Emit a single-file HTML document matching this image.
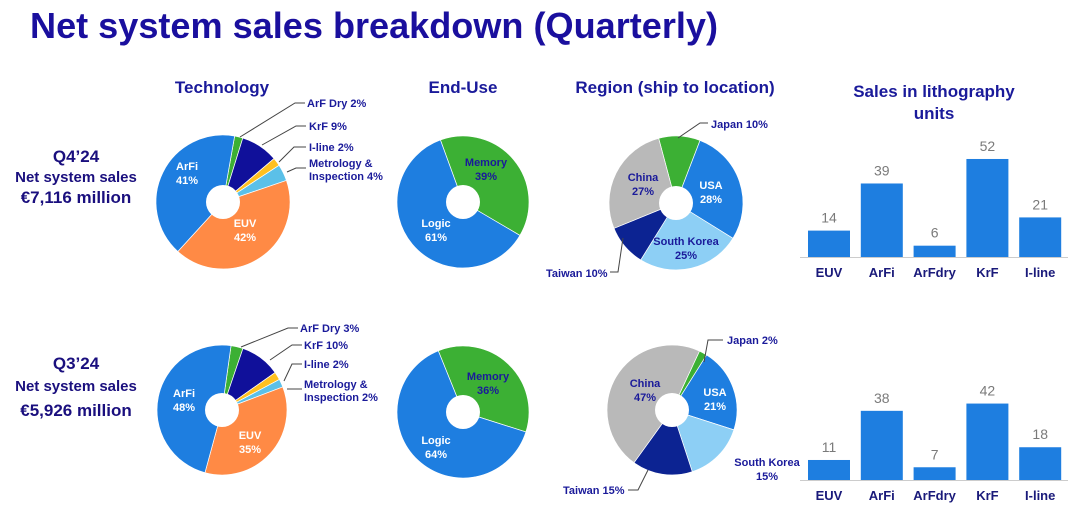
<!DOCTYPE html>
<html><head><meta charset="utf-8"><style>
html,body{margin:0;padding:0;background:#fff;}
svg{display:block;font-family:"Liberation Sans",Arial,sans-serif;font-weight:bold;}
</style></head><body>
<svg id="c" width="1077" height="513" viewBox="0 0 1077 513">
<text x="30" y="38" font-size="36" fill="#1a0f9e" textLength="688" lengthAdjust="spacingAndGlyphs">Net system sales breakdown (Quarterly)</text>
<text x="222" y="93" font-size="17" fill="#1a1a9a" text-anchor="middle">Technology</text>
<text x="463" y="93" font-size="17" fill="#1a1a9a" text-anchor="middle">End-Use</text>
<text x="675" y="93" font-size="17" fill="#1a1a9a" text-anchor="middle">Region (ship to location)</text>
<text x="934" y="97" font-size="17" fill="#1a1a9a" text-anchor="middle">Sales in lithography</text>
<text x="934" y="119" font-size="17" fill="#1a1a9a" text-anchor="middle">units</text>
<g fill="#1a0f7e" text-anchor="middle">
<text x="76" y="162" font-size="17">Q4’24</text>
<text x="76" y="182" font-size="15">Net system sales</text>
<text x="76" y="203" font-size="17">€7,116 million</text>
</g>
<g fill="#1a0f7e" text-anchor="middle">
<text x="76" y="369" font-size="17">Q3’24</text>
<text x="76" y="391" font-size="15">Net system sales</text>
<text x="76" y="416" font-size="17">€5,926 million</text>
</g>
<g id="pies"></g>
<g id="bars"></g>
<g fill="#1a1a9a" font-size="11">
<g fill="#fff"><text x="187" y="170" text-anchor="middle">ArFi</text><text x="187" y="184" text-anchor="middle">41%</text>
<text x="245" y="227" text-anchor="middle">EUV</text><text x="245" y="241" text-anchor="middle">42%</text>
<text x="436" y="227" text-anchor="middle">Logic</text><text x="436" y="241" text-anchor="middle">61%</text>
<text x="711" y="189" text-anchor="middle">USA</text><text x="711" y="203" text-anchor="middle">28%</text>
<text x="184" y="397" text-anchor="middle">ArFi</text><text x="184" y="411" text-anchor="middle">48%</text>
<text x="250" y="439" text-anchor="middle">EUV</text><text x="250" y="453" text-anchor="middle">35%</text>
<text x="436" y="444" text-anchor="middle">Logic</text><text x="436" y="458" text-anchor="middle">64%</text>
<text x="715" y="396" text-anchor="middle">USA</text><text x="715" y="410" text-anchor="middle">21%</text></g>
<text x="486" y="166" text-anchor="middle">Memory</text><text x="486" y="180" text-anchor="middle">39%</text>
<text x="488" y="380" text-anchor="middle">Memory</text><text x="488" y="394" text-anchor="middle">36%</text>
<text x="643" y="181" text-anchor="middle">China</text><text x="643" y="195" text-anchor="middle">27%</text>
<text x="686" y="245" text-anchor="middle">South Korea</text><text x="686" y="259" text-anchor="middle">25%</text>
<text x="645" y="387" text-anchor="middle">China</text><text x="645" y="401" text-anchor="middle">47%</text>
<text x="767" y="466" text-anchor="middle">South Korea</text><text x="767" y="480" text-anchor="middle">15%</text>
<text x="711" y="128">Japan 10%</text>
<text x="727" y="344">Japan 2%</text>
<text x="546" y="277">Taiwan 10%</text>
<text x="563" y="494">Taiwan 15%</text>
<text x="307" y="107">ArF Dry 2%</text><text x="309" y="130">KrF 9%</text><text x="309" y="151">I-line 2%</text>
<text x="309" y="167">Metrology &amp;</text><text x="309" y="180">Inspection 4%</text>
<text x="300" y="332">ArF Dry 3%</text><text x="304" y="349">KrF 10%</text><text x="304" y="368">I-line 2%</text>
<text x="304" y="388">Metrology &amp;</text><text x="304" y="401">Inspection 2%</text>
</g>
<g stroke="#444" stroke-width="1" fill="none">
<polyline points="240,137 295,103 305,103"/><polyline points="262,145 296,126 306,126"/><polyline points="279,162 294,147 306,147"/><polyline points="287,172 296,168 306,168"/>
<polyline points="241,347 288,328 298,328"/><polyline points="270,360 292,345 302,345"/><polyline points="284,381 292,364 302,364"/><polyline points="287,389 292,389 302,389"/>
<polyline points="678,138 700,123 708,123"/><polyline points="704,362 708,340 723,340"/>
<polyline points="623,238 618,272 610,272"/><polyline points="648,470 638,490 628,490"/>
</g>
<script>
// Bar chart data
const cats = ["EUV","ArFi","ArFdry","KrF","I-line"];
const q4Units = [14,39,6,52,21];
const q3Units = [11,38,7,42,18];
// Pie data
const techLabels = ["ArF Dry","KrF","I-line","Metrology","EUV","ArFi"];
const techQ4 = [2,9,2,4,42,41];
const techQ3 = [3,10,2,2,35,48];
const endLabels = ["Memory","Logic"];
const endQ4 = [39,61];
const endQ3 = [36,64];
const regLabels = ["Japan","USA","South Korea","Taiwan","China"];
const regQ4 = [10,28,25,10,27];
const regQ3 = [2,21,15,15,47];

const NS="http://www.w3.org/2000/svg";
const techCol=["#3cb034","#10109a","#ffc020","#5bc0e8","#ff8a45","#1e7ee0"];
const endCol=["#3cb034","#1e7ee0"];
const regCol=["#3cb034","#1e7ee0","#8dcff5","#0c2392","#b9b9b9"];
function pie(g,name,cx,cy,r,start,vals,labels,cols){
  const tot=vals.reduce((a,b)=>a+b,0);let a=start;
  vals.forEach((v,i)=>{
    const a2=a+v/tot*360;
    const p=d=>[cx+r*Math.sin(d*Math.PI/180),cy-r*Math.cos(d*Math.PI/180)];
    const [x1,y1]=p(a),[x2,y2]=p(a2);
    const el=document.createElementNS(NS,"path");
    el.setAttribute("d",`M${cx},${cy}L${x1},${y1}A${r},${r} 0 ${a2-a>180?1:0} 1 ${x2},${y2}Z`);
    el.setAttribute("fill",cols[i]);el.setAttribute("stroke","#fff");el.setAttribute("stroke-width","0.7");
    
    
    g.appendChild(el);a=a2;
  });
  const h=document.createElementNS(NS,"circle");
  h.setAttribute("cx",cx);h.setAttribute("cy",cy);h.setAttribute("r",17);h.setAttribute("fill","#fff");
  
  
  g.appendChild(h);
}
const pg=document.getElementById("pies");
pie(pg,"tech-q4",223,202,67,10,techQ4,techLabels,techCol);
pie(pg,"tech-q3",222,410,65,8,techQ3,techLabels,techCol);
pie(pg,"enduse-q4",463,202,66,-20,endQ4,endLabels,endCol);
pie(pg,"enduse-q3",463,412,66,-22,endQ3,endLabels,endCol);
pie(pg,"region-q4",676,203,67,-15,regQ4,regLabels,regCol);
pie(pg,"region-q3",672,410,65,25,regQ3,regLabels,regCol);

const bg=document.getElementById("bars");
function bars(name,vals,base,scale){
  const x0=808,step=52.8,w=42;
  const ax=document.createElementNS(NS,"line");
  ax.setAttribute("x1",800);ax.setAttribute("x2",1068);ax.setAttribute("y1",base+0.5);ax.setAttribute("y2",base+0.5);
  ax.setAttribute("stroke","#ccc");
  
  
  bg.appendChild(ax);
  vals.forEach((v,i)=>{
    const x=x0+i*step,h=v*scale;
    const b=document.createElementNS(NS,"rect");
    b.setAttribute("x",x);b.setAttribute("y",base-h);b.setAttribute("width",w);b.setAttribute("height",h);b.setAttribute("fill","#1e7ee0");
    
    
    bg.appendChild(b);
    const t=document.createElementNS(NS,"text");
    t.setAttribute("x",x+w/2);t.setAttribute("y",base-h-8);t.setAttribute("text-anchor","middle");
    t.setAttribute("font-size","14");t.setAttribute("font-weight","normal");t.setAttribute("fill","#7a7a7a");t.textContent=v;
    
    
    bg.appendChild(t);
    const c=document.createElementNS(NS,"text");
    c.setAttribute("x",x+w/2);c.setAttribute("y",base+20);c.setAttribute("text-anchor","middle");
    c.setAttribute("font-size","13");c.setAttribute("fill","#1a1a7a");c.textContent=cats[i];
    
    
    bg.appendChild(c);
  });
}
bars("units-q4",q4Units,257,1.885);
bars("units-q3",q3Units,480,1.82);
</script>
</svg>
</body></html>
